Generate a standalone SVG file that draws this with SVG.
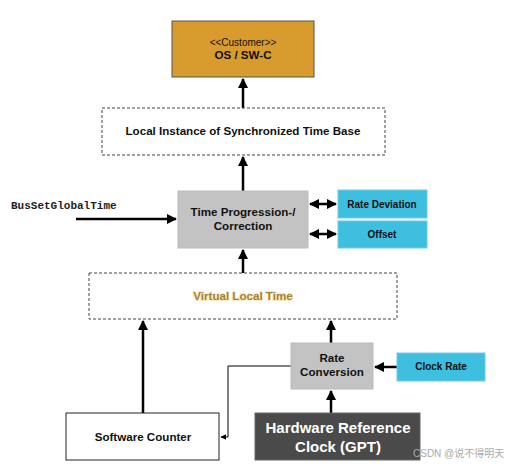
<svg xmlns="http://www.w3.org/2000/svg" width="505" height="466" viewBox="0 0 505 466">
<defs>
<style>
.t{font-family:"Liberation Sans",Arial,sans-serif;font-weight:bold;font-size:11.6px;fill:#111;text-anchor:middle}
.dash{fill:#fff;stroke:#444;stroke-width:1;stroke-dasharray:3,2}
.gray{fill:#C3C3C3;stroke:#bbb;stroke-width:1}
.blue{fill:#3FBFDF;stroke:#6ccbe5;stroke-width:1}
.c{stroke:#000;stroke-width:2.5;fill:none}
</style>
<marker id="ah" viewBox="0 0 10 10" refX="9" refY="5" markerWidth="4" markerHeight="4" orient="auto-start-reverse" markerUnits="strokeWidth">
<path d="M0,0 L10,5 L0,10 z" fill="#000"/>
</marker>
<marker id="ahs" viewBox="0 0 10 10" refX="9" refY="5" markerWidth="6" markerHeight="6" orient="auto" markerUnits="strokeWidth">
<path d="M0,0 L10,5 L0,10 z" fill="#000"/>
</marker>
</defs>
<rect width="505" height="466" fill="#fff"/>
<g id="connectors">
<line class="c" x1="243" y1="108" x2="243" y2="79" marker-end="url(#ah)"/>
<line class="c" x1="243" y1="191" x2="243" y2="157" marker-end="url(#ah)"/>
<line class="c" x1="243" y1="273" x2="243" y2="250" marker-end="url(#ah)"/>
<line class="c" x1="76" y1="219" x2="176" y2="219" marker-end="url(#ah)"/>
<line class="c" x1="310" y1="204" x2="336" y2="204" marker-start="url(#ah)" marker-end="url(#ah)"/>
<line class="c" x1="310" y1="234" x2="336" y2="234" marker-start="url(#ah)" marker-end="url(#ah)"/>
<line class="c" x1="143" y1="413" x2="143" y2="321" marker-end="url(#ah)"/>
<line class="c" x1="331" y1="343" x2="331" y2="321" marker-end="url(#ah)"/>
<line class="c" x1="397" y1="367" x2="375" y2="367" marker-end="url(#ah)"/>
<line class="c" x1="331" y1="413" x2="331" y2="391" marker-end="url(#ah)"/>
<polyline points="291,366 228,366 228,437 221,437" fill="none" stroke="#000" stroke-width="1" marker-end="url(#ahs)"/>
</g>
<g id="customer">
<rect x="172" y="21" width="142" height="56" fill="#D89B2E" stroke="#555" stroke-width="1"/>
<text class="t" x="243" y="46" style="font-weight:normal;font-size:10px">&lt;&lt;Customer&gt;&gt;</text>
<text class="t" x="243" y="59">OS / SW-C</text>
</g>
<g id="local-instance">
<rect class="dash" x="102" y="108" width="283" height="47"/>
<text class="t" x="243" y="135">Local Instance of Synchronized Time Base</text>
</g>
<g id="time-progression">
<rect class="gray" x="178" y="191" width="130" height="57"/>
<text class="t" x="243" y="216">Time Progression-/</text>
<text class="t" x="243" y="230">Correction</text>
</g>
<g id="rate-deviation">
<rect class="blue" x="338" y="190" width="89" height="28"/>
<text class="t" x="382" y="208" style="font-size:10px">Rate Deviation</text>
</g>
<g id="offset">
<rect class="blue" x="338" y="221" width="89" height="27"/>
<text class="t" x="382" y="238" style="font-size:10px">Offset</text>
</g>
<g id="bus-set-global-time">
<text x="11" y="209" style="font-family:'Liberation Mono','Courier New',monospace;font-weight:bold;font-size:11px;fill:#222">BusSetGlobalTime</text>
</g>
<g id="virtual-local-time">
<rect class="dash" x="89" y="273" width="308" height="46"/>
<text class="t" x="243" y="300" style="fill:#A4823A;stroke:#FBEBC0;stroke-width:2;paint-order:stroke">Virtual Local Time</text>
</g>
<g id="rate-conversion">
<rect class="gray" x="291" y="343" width="82" height="46"/>
<text class="t" x="332" y="362">Rate</text>
<text class="t" x="332" y="376">Conversion</text>
</g>
<g id="clock-rate">
<rect class="blue" x="397" y="353" width="88" height="28"/>
<text class="t" x="441" y="370" style="font-size:10px">Clock Rate</text>
</g>
<g id="software-counter">
<rect x="66" y="413" width="153" height="47" fill="#fff" stroke="#222" stroke-width="1"/>
<text class="t" x="143" y="441">Software Counter</text>
</g>
<g id="hardware-clock">
<rect x="255" y="413" width="165" height="47" fill="#4A4A4A" stroke="#666" stroke-width="1"/>
<text class="t" x="338" y="433" style="fill:#fff;font-size:15px">Hardware Reference</text>
<text class="t" x="338" y="452" style="fill:#fff;font-size:15px">Clock (GPT)</text>
</g>
<text x="413" y="457" style="font-family:'Liberation Sans','Noto Sans CJK SC',sans-serif;font-size:10px;fill:#aaa">CSDN @说不得明天</text>
</svg>
